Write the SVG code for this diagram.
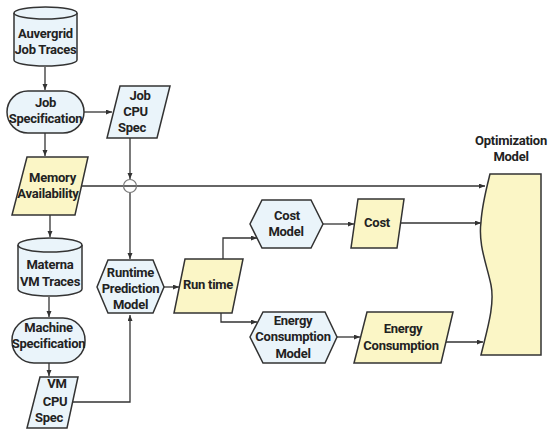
<svg xmlns="http://www.w3.org/2000/svg" width="550" height="434" viewBox="0 0 550 434">
<defs>
<marker id="ah" markerWidth="7" markerHeight="6" refX="6" refY="2.5" orient="auto" markerUnits="userSpaceOnUse">
<path d="M0,0 L6,2.5 L0,5 Z" fill="#333"/>
</marker>
<style>
.b{fill:#eaf4fa;stroke:#333;stroke-width:1.5}
.y{fill:#fbf6c6;stroke:#333;stroke-width:1.5}
.t{font-family:Roboto,"Liberation Sans",Arial,sans-serif;font-weight:bold;font-size:13px;letter-spacing:-0.25px;fill:#222;text-anchor:middle}
.c{fill:none;stroke:#333;stroke-width:1.3}
.a{marker-end:url(#ah)}
</style>
</defs>
<rect width="550" height="434" fill="#fff"/>
<g id="connectors">
<path class="c a" d="M45,67 V90"/>
<path class="c a" d="M84,112 H112"/>
<path class="c a" d="M45,133 V156"/>
<path class="c a" d="M130,138 V179"/>
<path class="c a" d="M82,186 H485"/>
<path class="c a" d="M130,193 V259"/>
<path class="c a" d="M50,215 V237"/>
<path class="c a" d="M49,297 V317"/>
<path class="c a" d="M49,363 V376"/>
<path class="c a" d="M72,402 H130 V315"/>
<path class="c a" d="M164,287 H179"/>
<path class="c a" d="M223,259 V238 H257"/>
<path class="c a" d="M221,313 V322 H257"/>
<path class="c a" d="M323,224 H354"/>
<path class="c a" d="M400,223 H481"/>
<path class="c a" d="M337,337 H360"/>
<path class="c a" d="M446,342 H483"/>
<circle cx="130" cy="186" r="6.5" fill="none" stroke="#777" stroke-width="1.2"/>
</g>
<g id="auvergrid">
<path class="b" d="M14,13 A31.5,6 0 0 1 77,13 V60 A31.5,6 0 0 1 14,60 Z"/>
<path class="b" d="M14,13 A31.5,6 0 0 0 77,13"/>
<text class="t" x="45.5" y="38">Auvergrid</text>
<text class="t" x="45.5" y="54">Job Traces</text>
</g>
<g id="jobspec">
<rect class="b" x="7" y="91" width="77" height="42" rx="21"/>
<text class="t" x="45.5" y="106.5">Job</text>
<text class="t" x="45.5" y="122.5">Specification</text>
</g>
<g id="jobcpu">
<path class="b" d="M120,86 H170 L157,138 H107 Z"/>
<text class="t" x="140" y="99.5">Job</text>
<text class="t" x="135.5" y="116">CPU</text>
<text class="t" x="132" y="131.5">Spec</text>
</g>
<g id="memory">
<path class="y" d="M27,157 H88 L75,215 H12 Z"/>
<text class="t" x="52.5" y="181.5">Memory</text>
<text class="t" x="48" y="197.5">Availability</text>
</g>
<g id="materna">
<path class="b" d="M18,245 A32,7 0 0 1 82,245 V289 A32,7 0 0 1 18,289 Z"/>
<path class="b" d="M18,245 A32,7 0 0 0 82,245"/>
<text class="t" x="50" y="268.5">Materna</text>
<text class="t" x="50" y="285.5">VM Traces</text>
</g>
<g id="machinespec">
<rect class="b" x="12" y="318" width="73" height="45" rx="22"/>
<text class="t" x="48.5" y="331.5">Machine</text>
<text class="t" x="48.5" y="347.5">Specification</text>
</g>
<g id="vmcpu">
<path class="b" d="M40,377 H78 L67,428 H27 Z"/>
<text class="t" x="57" y="387.5">VM</text>
<text class="t" x="55" y="405.5">CPU</text>
<text class="t" x="49" y="421.5">Spec</text>
</g>
<g id="runtimemodel">
<path class="b" d="M108,260 H153 L164,287 L153,313 H108 L97,287 Z"/>
<text class="t" x="130.5" y="276.5">Runtime</text>
<text class="t" x="130.5" y="292.5">Prediction</text>
<text class="t" x="130.5" y="308.5">Model</text>
</g>
<g id="runtime">
<path class="y" d="M185,259 H243 L232,313 H174 Z"/>
<text class="t" x="208" y="288.5">Run time</text>
</g>
<g id="costmodel">
<path class="b" d="M262,200 H311 L323,224 L311,248 H262 L250,224 Z"/>
<text class="t" x="287" y="219.5">Cost</text>
<text class="t" x="286" y="235.5">Model</text>
</g>
<g id="cost">
<path class="y" d="M358,199 H404 L397,248 H351 Z"/>
<text class="t" x="377" y="226.5">Cost</text>
</g>
<g id="energymodel">
<path class="b" d="M263,312 H325 L337,337 L325,363 H263 L250,337 Z"/>
<text class="t" x="293" y="324.5">Energy</text>
<text class="t" x="293" y="340.5">Consumption</text>
<text class="t" x="293" y="357.5">Model</text>
</g>
<g id="energy">
<path class="y" d="M367,312 H453 L441,363 H354 Z"/>
<text class="t" x="403" y="332.5">Energy</text>
<text class="t" x="401" y="349.5">Consumption</text>
</g>
<g id="optimization">
<path class="y" d="M490,174 H541 V355 H481 C487,330 495,305 491,285 C487,265 478,245 481,222 C482,205 486,190 490,174 Z"/>
<text class="t" x="511" y="144.5">Optimization</text>
<text class="t" x="511" y="160.5">Model</text>
</g>
</svg>
